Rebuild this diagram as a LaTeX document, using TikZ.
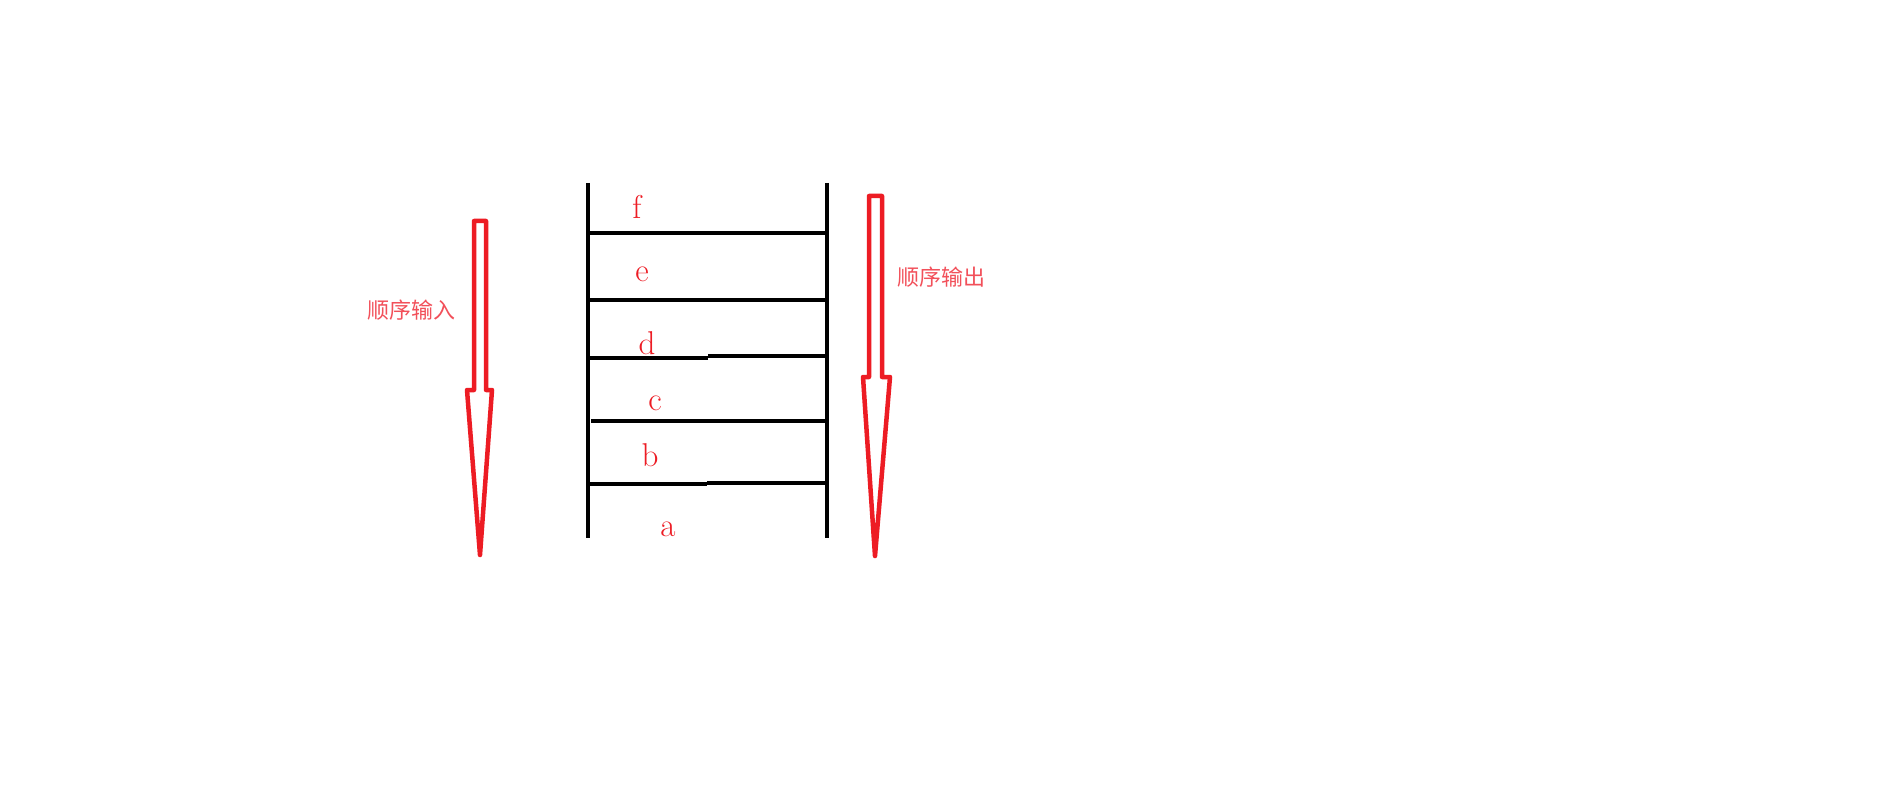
\documentclass[tikz,border=0pt]{standalone}
\usepackage{fontspec}
\newfontfamily\cjk{Noto Sans CJK SC}
\definecolor{pred}{RGB}{237,28,36}
\definecolor{tred}{RGB}{242,80,90}
\begin{document}
\begin{tikzpicture}[x=1pt,y=-1pt,
  rail/.style={line width=4.8pt,black},
  rung/.style={line width=4.8pt,black},
  bigarrow/.style={draw=pred,line width=4.5pt,line join=round},
  letter/.style={text=pred,font=\fontsize{33}{33}\selectfont,inner sep=0pt},
  caption/.style={text=tred,font=\cjk\fontsize{22}{22}\selectfont,inner sep=0pt}]
\useasboundingbox[fill=white] (0,0) rectangle (1895,802);
% ladder rails
\draw[rail] (588,183) -- (588,538);
\draw[rail] (827,183) -- (827,538);
% rungs
\draw[rung] (588,233) -- (827,233);
\draw[rung] (588,300) -- (827,300);
\draw[rung] (588,358) -- (708,358);
\draw[rung] (708,356) -- (827,356);
\draw[rung] (591,421) -- (827,421);
\draw[rung] (588,484) -- (707,484);
\draw[rung] (707,483) -- (827,483);
% letters
\node[letter] (lf) at (637,207) {f};
\node[letter] (le) at (642,274) {e};
\node[letter] (ld) at (647,343) {d};
\node[letter] (lc) at (655,403) {c};
\node[letter] (lb) at (650,455) {b};
\node[letter] (la) at (668,529) {a};
% left arrow
\draw[bigarrow] (474,221) -- (486,221) -- (486,390) -- (492,390) -- (480,555) -- (467,390) -- (474,390) -- cycle;
% right arrow
\draw[bigarrow] (869,196) -- (882,196) -- (882,377) -- (890,377) -- (875,556) -- (863,377) -- (869,377) -- cycle;
% captions
\node[caption] (tin) at (411,310) {顺序输入};
\node[caption] (tout) at (941,277) {顺序输出};
\end{tikzpicture}
\end{document}
